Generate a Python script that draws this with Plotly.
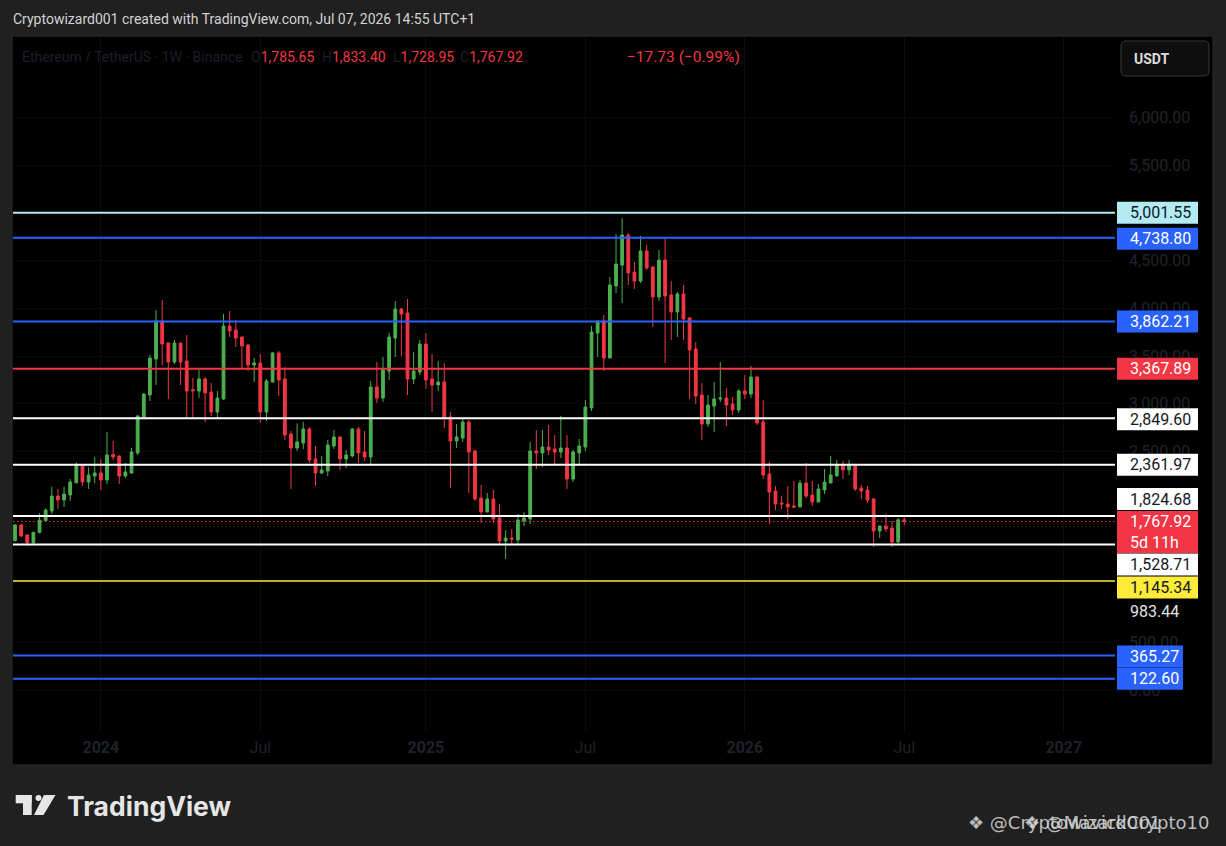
import pandas as pd
import plotly.graph_objects as go

# ---- Weekly ETH/USDT candles (Binance), first bar opens the week of 2023-09-25 ----
FIRST_WEEK = "2023-09-25"

opens = [1568, 1732, 1627, 1547, 1655, 1777, 1878, 2035, 1994, 2046,
         2175, 2353, 2182, 2245, 2276, 2203, 2468, 2454, 2245, 2276,
         2486, 2862, 3093, 3470, 3868, 3637, 3438, 3637, 3448, 3149,
         3135, 3260, 3124, 2915, 3051, 3815, 3773, 3700, 3616, 3407,
         3428, 2915, 3229, 3533, 3260, 2684, 2538, 2590, 2737, 2423,
         2276, 2297, 2559, 2653, 2423, 2454, 2737, 2496, 2444, 3177,
         3061, 3344, 3690, 3993, 3951, 3260, 3334, 3627, 3260, 3198,
         3229, 2862, 2611, 2643, 2810, 2507, 2014, 1868, 2004, 1805,
         1564, 1596, 1575, 1774, 1795, 2507, 2486, 2548, 2527, 2496,
         2538, 2213, 2486, 2548, 2957, 3742, 3868, 3480, 4234, 4454,
         4768, 4380, 4286, 4601, 4433, 4119, 4506, 4140, 3962, 4150,
         3899, 3574, 3093, 2789, 2978, 3051, 3061, 2999, 2936, 3135,
         3103, 3281, 2810, 2266, 2088, 1962, 1952, 1931, 1920, 2171,
         2046, 1973, 2098, 2171, 2245, 2360, 2308, 2360, 2119, 2098,
         2004, 1669, 1721, 1700, 1554, 1785.65]
highs = [1742, 1742, 1635, 1658, 1854, 1906, 2133, 2109, 2133, 2213,
         2388, 2360, 2336, 2444, 2423, 2706, 2615, 2460, 2381, 2538,
         2883, 3114, 3512, 3983, 4088, 3640, 3669, 3640, 3721, 3271,
         3355, 3281, 3219, 3135, 3941, 3972, 3878, 3705, 3627, 3480,
         3522, 3260, 3543, 3553, 3386, 2716, 2796, 2810, 2758, 2559,
         2454, 2622, 2726, 2660, 2517, 2747, 2758, 2716, 3239, 3438,
         3491, 3742, 4077, 4004, 4098, 3543, 3669, 3742, 3522, 3449,
         3428, 2915, 2789, 2852, 2831, 2517, 2151, 2067, 2098, 1952,
         1679, 1690, 1847, 1868, 2601, 2726, 2726, 2779, 2674, 2873,
         2674, 2517, 2632, 3040, 3815, 3870, 3930, 4328, 4778, 4946,
         4789, 4485, 4758, 4663, 4443, 4611, 4747, 4286, 4171, 4245,
         3910, 3648, 3218, 3093, 3229, 3438, 3166, 3072, 3156, 3302,
         3396, 3290, 3040, 2391, 2140, 2035, 2140, 2192, 2203, 2381,
         2192, 2161, 2318, 2454, 2412, 2402, 2412, 2370, 2151, 2140,
         2014, 1725, 1847, 1774, 1805, 1833.40]
lows = [1557, 1603, 1512, 1533, 1644, 1774, 1847, 1899, 1920, 1983,
        2168, 2140, 2109, 2168, 2098, 2161, 2412, 2161, 2224, 2266,
        2465, 2852, 3030, 3198, 3407, 3051, 3417, 3198, 2842, 2863,
        3061, 2810, 2873, 2852, 3041, 3700, 3595, 3376, 3344, 3229,
        2800, 2821, 3225, 3082, 2622, 2109, 2507, 2527, 2381, 2140,
        2266, 2245, 2527, 2308, 2329, 2444, 2381, 2402, 2350, 3009,
        3020, 3250, 3491, 3501, 3093, 3208, 3302, 3156, 2915, 3135,
        2747, 2119, 2538, 2601, 2067, 1983, 1753, 1866, 1753, 1533,
        1376, 1533, 1533, 1721, 1742, 2318, 2339, 2465, 2370, 2433,
        2109, 2182, 2370, 2506, 2925, 3491, 3344, 3478, 4161, 4056,
        4245, 4203, 4265, 4402, 3805, 4077, 3428, 3669, 3700, 3669,
        3051, 2999, 2622, 2758, 2705, 3020, 2768, 2883, 2904, 3051,
        3061, 2779, 2213, 1742, 1889, 1899, 1795, 1910, 1918, 2014,
        1931, 1970, 2056, 2170, 2243, 2213, 2255, 2088, 2004, 1962,
        1501, 1596, 1659, 1501, 1543, 1728.95]
closes = [1732, 1617, 1547, 1655, 1784, 1889, 2035, 1994, 2056, 2182,
          2353, 2182, 2255, 2276, 2203, 2465, 2444, 2245, 2287, 2496,
          2873, 3103, 3480, 3868, 3627, 3438, 3637, 3438, 3135, 3138,
          3260, 3114, 2915, 3061, 3815, 3763, 3690, 3606, 3407, 3428,
          2915, 3239, 3533, 3250, 2674, 2538, 2601, 2737, 2412, 2276,
          2308, 2569, 2653, 2423, 2465, 2737, 2486, 2444, 3177, 3061,
          3355, 3700, 3993, 3941, 3260, 3344, 3627, 3250, 3198, 3229,
          2852, 2611, 2653, 2810, 2496, 2004, 1868, 2004, 1795, 1564,
          1596, 1585, 1784, 1805, 2507, 2486, 2548, 2517, 2496, 2538,
          2213, 2496, 2559, 2967, 3752, 3868, 3480, 4245, 4464, 4768,
          4370, 4286, 4601, 4423, 4119, 4506, 4129, 3962, 4150, 3889,
          3564, 3082, 2789, 2988, 3051, 3061, 2988, 2936, 3135, 3103,
          3281, 2800, 2255, 2077, 1952, 1952, 1920, 1920, 2171, 2035,
          1973, 2109, 2182, 2255, 2360, 2308, 2360, 2109, 2088, 1993,
          1669, 1721, 1690, 1554, 1785.65, 1767.92]

# ---- Horizontal levels drawn on the chart ----
level_prices = [5001.55, 4738.80, 3862.21, 3367.89, 2849.60, 2361.97,
                1824.68, 1528.71, 1145.34, 365.27, 122.60]
extra_scale_value = 983.44
countdown_text = "5d 11h"

# ---- Time-axis labels (first weekly bar of each half-year) ----
tick_dates = ["2024-01-01", "2024-07-01", "2025-01-06", "2025-07-07",
              "2026-01-05", "2026-07-06", "2027-01-04"]
tick_labels = ["2024", "Jul", "2025", "Jul", "2026", "Jul", "2027"]

# price-scale labels left visible between the level tags
price_ticks = [0, 500, 2500, 3000, 3500, 4000, 4500, 5500, 6000]

# ---- Styling ----
GREEN = "#4caf50"
RED = "#f23645"
BLUE = "#2962ff"
CYAN = "#b2ebf2"
WHITE = "#ffffff"
YELLOW = "#ffeb3b"
DIM = "#20232c"
BG = "#202020"

W, H = 1226, 846
PL, PR, PT, PB = 13, 1115, 37, 732  # pane edges (px)


def fx(px):
    return (px - PL) / (PR - PL)


def fy(py):
    return (PB - py) / (PB - PT)


weeks = pd.date_range(FIRST_WEEK, periods=len(opens), freq="7D")
day_per_px = 7 / 6.133
x_start = weeks[0] - pd.Timedelta(days=(15 - PL) * day_per_px)
x_end = weeks[0] + pd.Timedelta(days=(PR - 15) * day_per_px)

fig = go.Figure(go.Candlestick(
    x=weeks, open=opens, high=highs, low=lows, close=closes,
    increasing=dict(line=dict(color=GREEN, width=1), fillcolor=GREEN),
    decreasing=dict(line=dict(color=RED, width=1), fillcolor=RED),
    whiskerwidth=0, showlegend=False, hoverinfo="skip",
))

shapes = []
annotations = []

# black chart frame
shapes.append(dict(type="rect", xref="paper", yref="paper", layer="below",
                   x0=fx(12), x1=fx(1213), y0=fy(36), y1=fy(765),
                   fillcolor="#000000", line=dict(color="#2c2c2c", width=1)))

# level lines and their price-scale tags
level_style = [
    (CYAN, 2, "#131722", 0, 83),
    (BLUE, 2, WHITE, -1, 83),
    (BLUE, 2, WHITE, 0, 83),
    (RED, 2, WHITE, 0, 83),
    (WHITE, 2, "#131722", -1, 83),
    (WHITE, 2, "#131722", 0, 83),
    (WHITE, 2, "#131722", 17, 83),
    (WHITE, 2, "#131722", -20, 83),
    (YELLOW, 1.5, "#131722", -6.5, 83),
    (BLUE, 2, WHITE, -1, 68),
    (BLUE, 2, WHITE, 0, 68),
]
for price, (col, lw, fg, dy, right) in zip(level_prices, level_style):
    shapes.append(dict(type="line", xref="paper", yref="y", x0=0, x1=1,
                       y0=price, y1=price, layer="above",
                       line=dict(color=col, width=lw)))
    shapes.append(dict(type="rect", xref="paper", yref="y", layer="above",
                       xsizemode="pixel", xanchor=1, x0=2, x1=right,
                       ysizemode="pixel", yanchor=price, y0=dy - 11, y1=dy + 11,
                       fillcolor=col, line=dict(width=0)))
    annotations.append(dict(xref="paper", yref="y", x=1, y=price, xshift=13,
                            yshift=dy, xanchor="left", yanchor="middle",
                            text=f"{price:,.2f}", showarrow=False,
                            font=dict(family="Roboto", size=16, color=fg)))

# last price: dotted line + countdown tag
last = closes[-1]
shapes.append(dict(type="line", xref="paper", yref="y", x0=0, x1=1,
                   y0=last, y1=last, layer="above",
                   line=dict(color=RED, width=1, dash="1.5px,2.5px")))
shapes.append(dict(type="rect", xref="paper", yref="y", layer="above",
                   xsizemode="pixel", xanchor=1, x0=2, x1=83,
                   ysizemode="pixel", yanchor=last, y0=-31.5, y1=10.5,
                   fillcolor=RED, line=dict(width=0)))
annotations.append(dict(xref="paper", yref="y", x=1, y=last, xshift=13,
                        yshift=-10.5, xanchor="left", yanchor="middle", align="left",
                        text=f"{last:,.2f}<br>{countdown_text}", showarrow=False,
                        font=dict(family="Roboto", size=16, color=WHITE)))
annotations.append(dict(xref="paper", yref="y", x=1, y=extra_scale_value, xshift=13,
                        yshift=-15, xanchor="left", yanchor="middle",
                        text=f"{extra_scale_value:,.2f}", showarrow=False,
                        font=dict(family="Roboto", size=16, color="#e3e3e3")))

# header line
annotations.append(dict(xref="paper", yref="paper", x=fx(11), y=fy(19),
                        xanchor="left", yanchor="middle", showarrow=False,
                        text="Cryptowizard001 created with TradingView.com, Jul 07, 2026 14:55 UTC+1",
                        font=dict(family="Roboto", size=14, color="#d2d2d2")))

# symbol legend with OHLC of the last bar
LEG = "#1c1f28"
annotations.append(dict(xref="paper", yref="paper", x=fx(20), y=fy(57),
                        xanchor="left", yanchor="middle", showarrow=False,
                        text="Ethereum / TetherUS · 1W · Binance",
                        font=dict(family="Roboto", size=14, color=LEG)))
for key, val, xpx in [("O", opens[-1], 249), ("H", highs[-1], 320),
                      ("L", lows[-1], 391), ("C", closes[-1], 458)]:
    annotations.append(dict(xref="paper", yref="paper", x=fx(xpx), y=fy(57),
                            xanchor="left", yanchor="middle", showarrow=False,
                            text=f"{key}<span style='color:{RED}'>{val:,.2f}</span>",
                            font=dict(family="Roboto", size=14, color=LEG)))
chg = closes[-1] - closes[-2]
pct = chg / closes[-2] * 100
sign = "−" if chg < 0 else "+"
annotations.append(dict(xref="paper", yref="paper", x=fx(625), y=fy(57),
                        xanchor="left", yanchor="middle", showarrow=False,
                        text=f"{sign}{abs(chg):,.2f} ({sign}{abs(pct):.2f}%)",
                        font=dict(family="Roboto", size=15.5, color=RED)))


# currency button
def rounded_rect(x0, y0, x1, y1, r):
    pts = [
        f"M {fx(x0 + r)},{fy(y0)}", f"L {fx(x1 - r)},{fy(y0)}",
        f"Q {fx(x1)},{fy(y0)} {fx(x1)},{fy(y0 + r)}", f"L {fx(x1)},{fy(y1 - r)}",
        f"Q {fx(x1)},{fy(y1)} {fx(x1 - r)},{fy(y1)}", f"L {fx(x0 + r)},{fy(y1)}",
        f"Q {fx(x0)},{fy(y1)} {fx(x0)},{fy(y1 - r)}", f"L {fx(x0)},{fy(y0 + r)}",
        f"Q {fx(x0)},{fy(y0)} {fx(x0 + r)},{fy(y0)} Z",
    ]
    return " ".join(pts)


shapes.append(dict(type="path", xref="paper", yref="paper", layer="above",
                   path=rounded_rect(1121, 41, 1209, 76, 5),
                   fillcolor="#0e0e0e", line=dict(color="#3a3a3a", width=1)))
annotations.append(dict(xref="paper", yref="paper", x=fx(1132), y=fy(58.5),
                        xanchor="left", yanchor="middle", showarrow=False,
                        text="<b>USDT</b>",
                        font=dict(family="Roboto", size=14, color="#dcdcdc")))

# TradingView brand mark
LOGO = "#e6e6e6"
shapes += [
    dict(type="rect", xref="paper", yref="paper", x0=fx(15.7), x1=fx(31.7),
         y0=fy(795), y1=fy(803.3), fillcolor=LOGO, line=dict(width=0)),
    dict(type="rect", xref="paper", yref="paper", x0=fx(23), x1=fx(31.7),
         y0=fy(795), y1=fy(815), fillcolor=LOGO, line=dict(width=0)),
    dict(type="circle", xref="paper", yref="paper", x0=fx(35.5), x1=fx(41.5),
         y0=fy(795), y1=fy(801), fillcolor=LOGO, line=dict(width=0)),
    dict(type="path", xref="paper", yref="paper",
         path=f"M {fx(44)},{fy(795)} L {fx(55.5)},{fy(795)} L {fx(43.5)},{fy(815)} "
              f"L {fx(34)},{fy(815)} Z",
         fillcolor=LOGO, line=dict(width=0)),
]
annotations.append(dict(xref="paper", yref="paper", x=fx(65), y=fy(806),
                        xanchor="left", yanchor="middle", showarrow=False,
                        text="<b>TradingView</b>",
                        font=dict(family="Inter", size=26.5, color=LOGO)))

# repost watermark (two overlapping handles)
for xpx, handle in [(966, "❖ @Cryptowizard001"), (1022, "❖ @MavickCrypto10")]:
    annotations.append(dict(xref="paper", yref="paper", x=fx(xpx), y=fy(822),
                            xanchor="left", yanchor="middle", showarrow=False,
                            text=handle, opacity=0.85,
                            font=dict(family="DejaVu Sans", size=18, color="#d8d8d8")))

fig.update_layout(
    width=W, height=H,
    margin=dict(l=PL, r=W - PR, t=PT, b=H - PB, autoexpand=False),
    paper_bgcolor=BG, plot_bgcolor="#000000",
    boxgap=0.35, hovermode=False, showlegend=False,
    font=dict(family="Roboto"),
    shapes=shapes, annotations=annotations,
    xaxis=dict(
        type="date", range=[x_start, x_end], rangeslider=dict(visible=False),
        tickvals=tick_dates,
        ticktext=[f"<b>{t}</b>" if t.isdigit() else t for t in tick_labels],
        ticks="", showline=False, zeroline=False,
        showgrid=True, gridcolor="#0c0c0e", gridwidth=1,
        tickfont=dict(family="Roboto", size=16, color="#1f222a"),
        ticklabelstandoff=4, fixedrange=True,
    ),
    yaxis=dict(
        side="right", range=[(690.4 - PB) / 0.09551, (690.4 - PT) / 0.09551],
        tickvals=price_ticks, tickformat=",.2f",
        ticks="", showline=False, zeroline=False,
        showgrid=True, gridcolor="#0a0a0c", gridwidth=1,
        tickfont=dict(family="Roboto", size=16, color=DIM),
        ticklabelstandoff=13, fixedrange=True,
    ),
)

fig.write_html("out.html")
